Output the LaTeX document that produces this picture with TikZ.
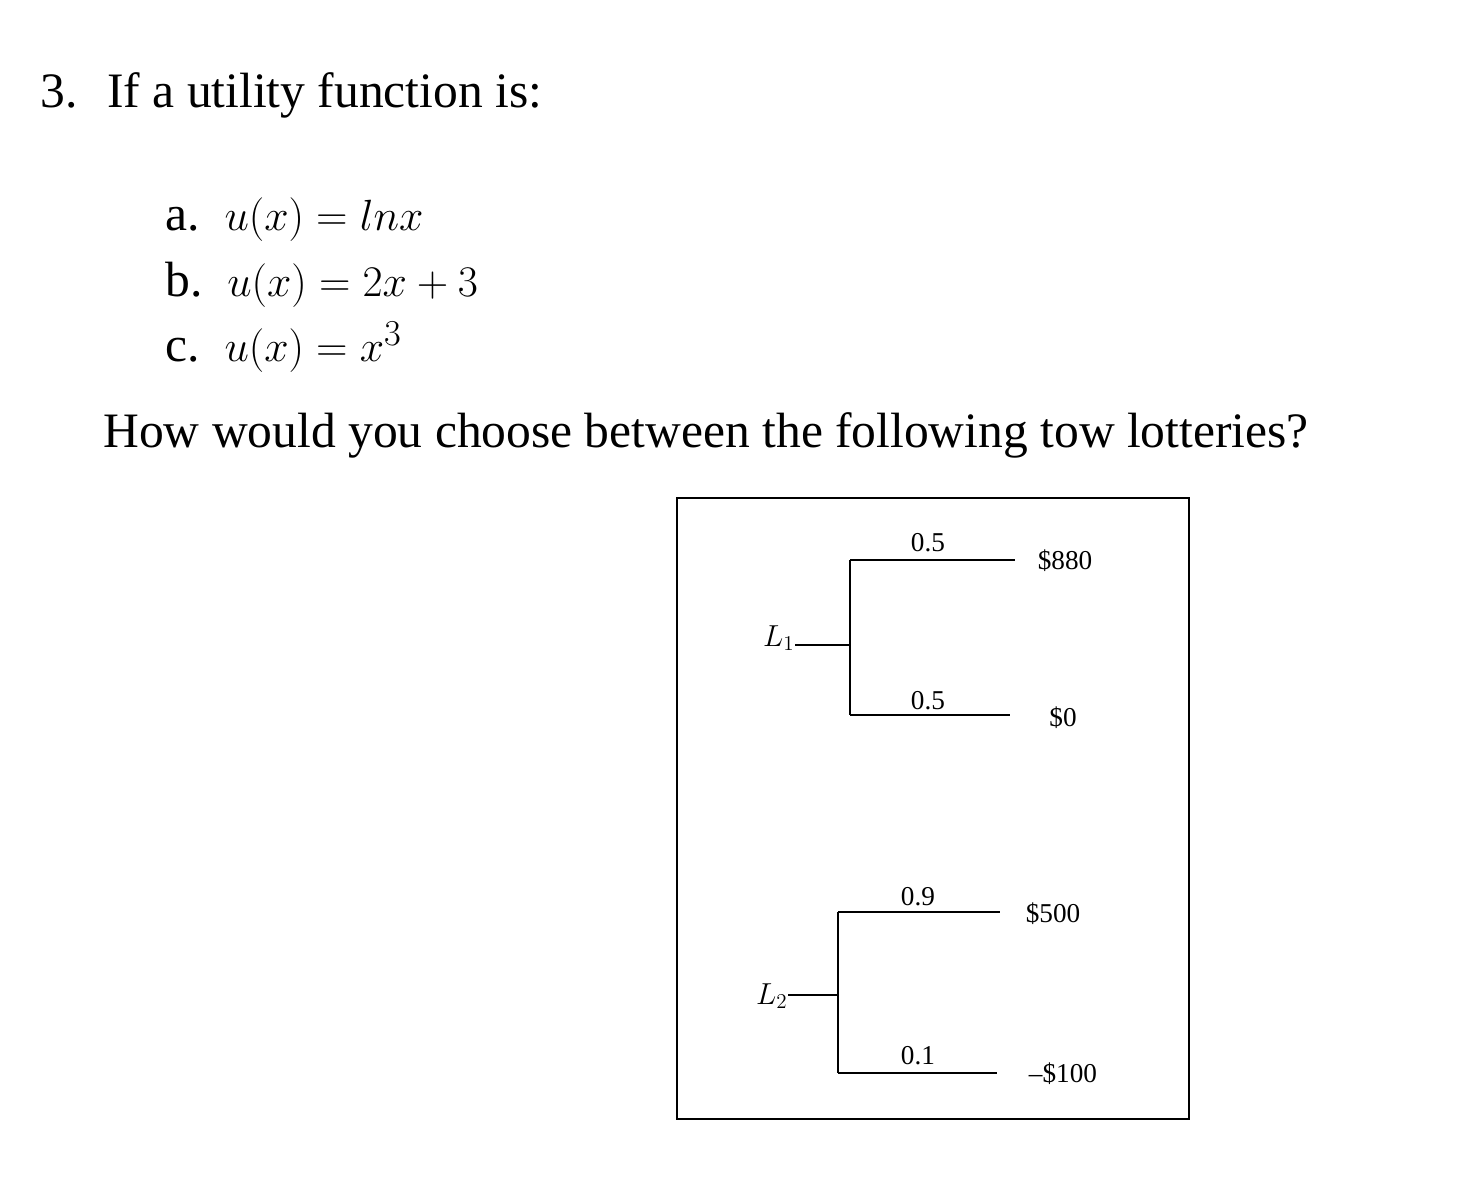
\documentclass[tikz,border=0pt]{standalone}
\usepackage{fontspec}
\setmainfont{Liberation Serif}
\tikzset{big/.style={font=\fontsize{28.2}{33}\selectfont, anchor=west, inner sep=0},
 small/.style={font=\fontsize{15.5}{18}\selectfont, inner sep=0},
 ln/.style={line width=1.6pt}}
\begin{document}
\begin{tikzpicture}[x=0.02cm,y=-0.02cm]
\useasboundingbox (0,0) rectangle (1464,1178);
\node[big] (t1) at (40,95) {3.\hspace{0.6em}If a utility function is:};
\node[big] (ta) at (165,220) {a.\ \ $u(x)=lnx$};
\node[big] (tb) at (165,285) {b.\ \ $u(x)=2x+3$};
\node[big] (tc) at (165,347) {c.\ \ $u(x)=x^3$};
\node[big] (tq) at (103,435) {How would you choose between the following tow lotteries?};
\draw[line width=1.3pt] (677,498) rectangle (1189,1119);
% L1
\node[small, anchor=east, font=\fontsize{17}{20}\selectfont] (L1) at (795,638) {$L_1$};
\coordinate (v1) at (850,645);
\coordinate (v1t) at (850,560); \coordinate (v1b) at (850,715);
\coordinate (e1t) at (1015,560); \coordinate (e1b) at (1010,715);
\draw[ln] (L1.east |- v1) -- (v1) (v1t) -- (v1b) (v1t) -- (e1t) (v1b) -- (e1b);
\node[small] (p1) at (928,543) {0.5};
\node[small] (p2) at (928,701) {0.5};
\node[small] (o1) at (1065,561) {\$880};
\node[small] (o2) at (1063,718) {\$0};
% L2
\node[small, anchor=east, font=\fontsize{17}{20}\selectfont] (L2) at (788,996) {$L_2$};
\coordinate (v2) at (838,995);
\coordinate (v2t) at (838,912); \coordinate (v2b) at (838,1073);
\coordinate (e2t) at (1000,912); \coordinate (e2b) at (997,1073);
\draw[ln] (L2.east |- v2) -- (v2) (v2t) -- (v2b) (v2t) -- (e2t) (v2b) -- (e2b);
\node[small] (p3) at (918,897) {0.9};
\node[small] (p4) at (918,1056) {0.1};
\node[small] (o3) at (1053,914) {\$500};
\node[small] (o4) at (1063,1074) {--\$100};
\end{tikzpicture}
\end{document}
